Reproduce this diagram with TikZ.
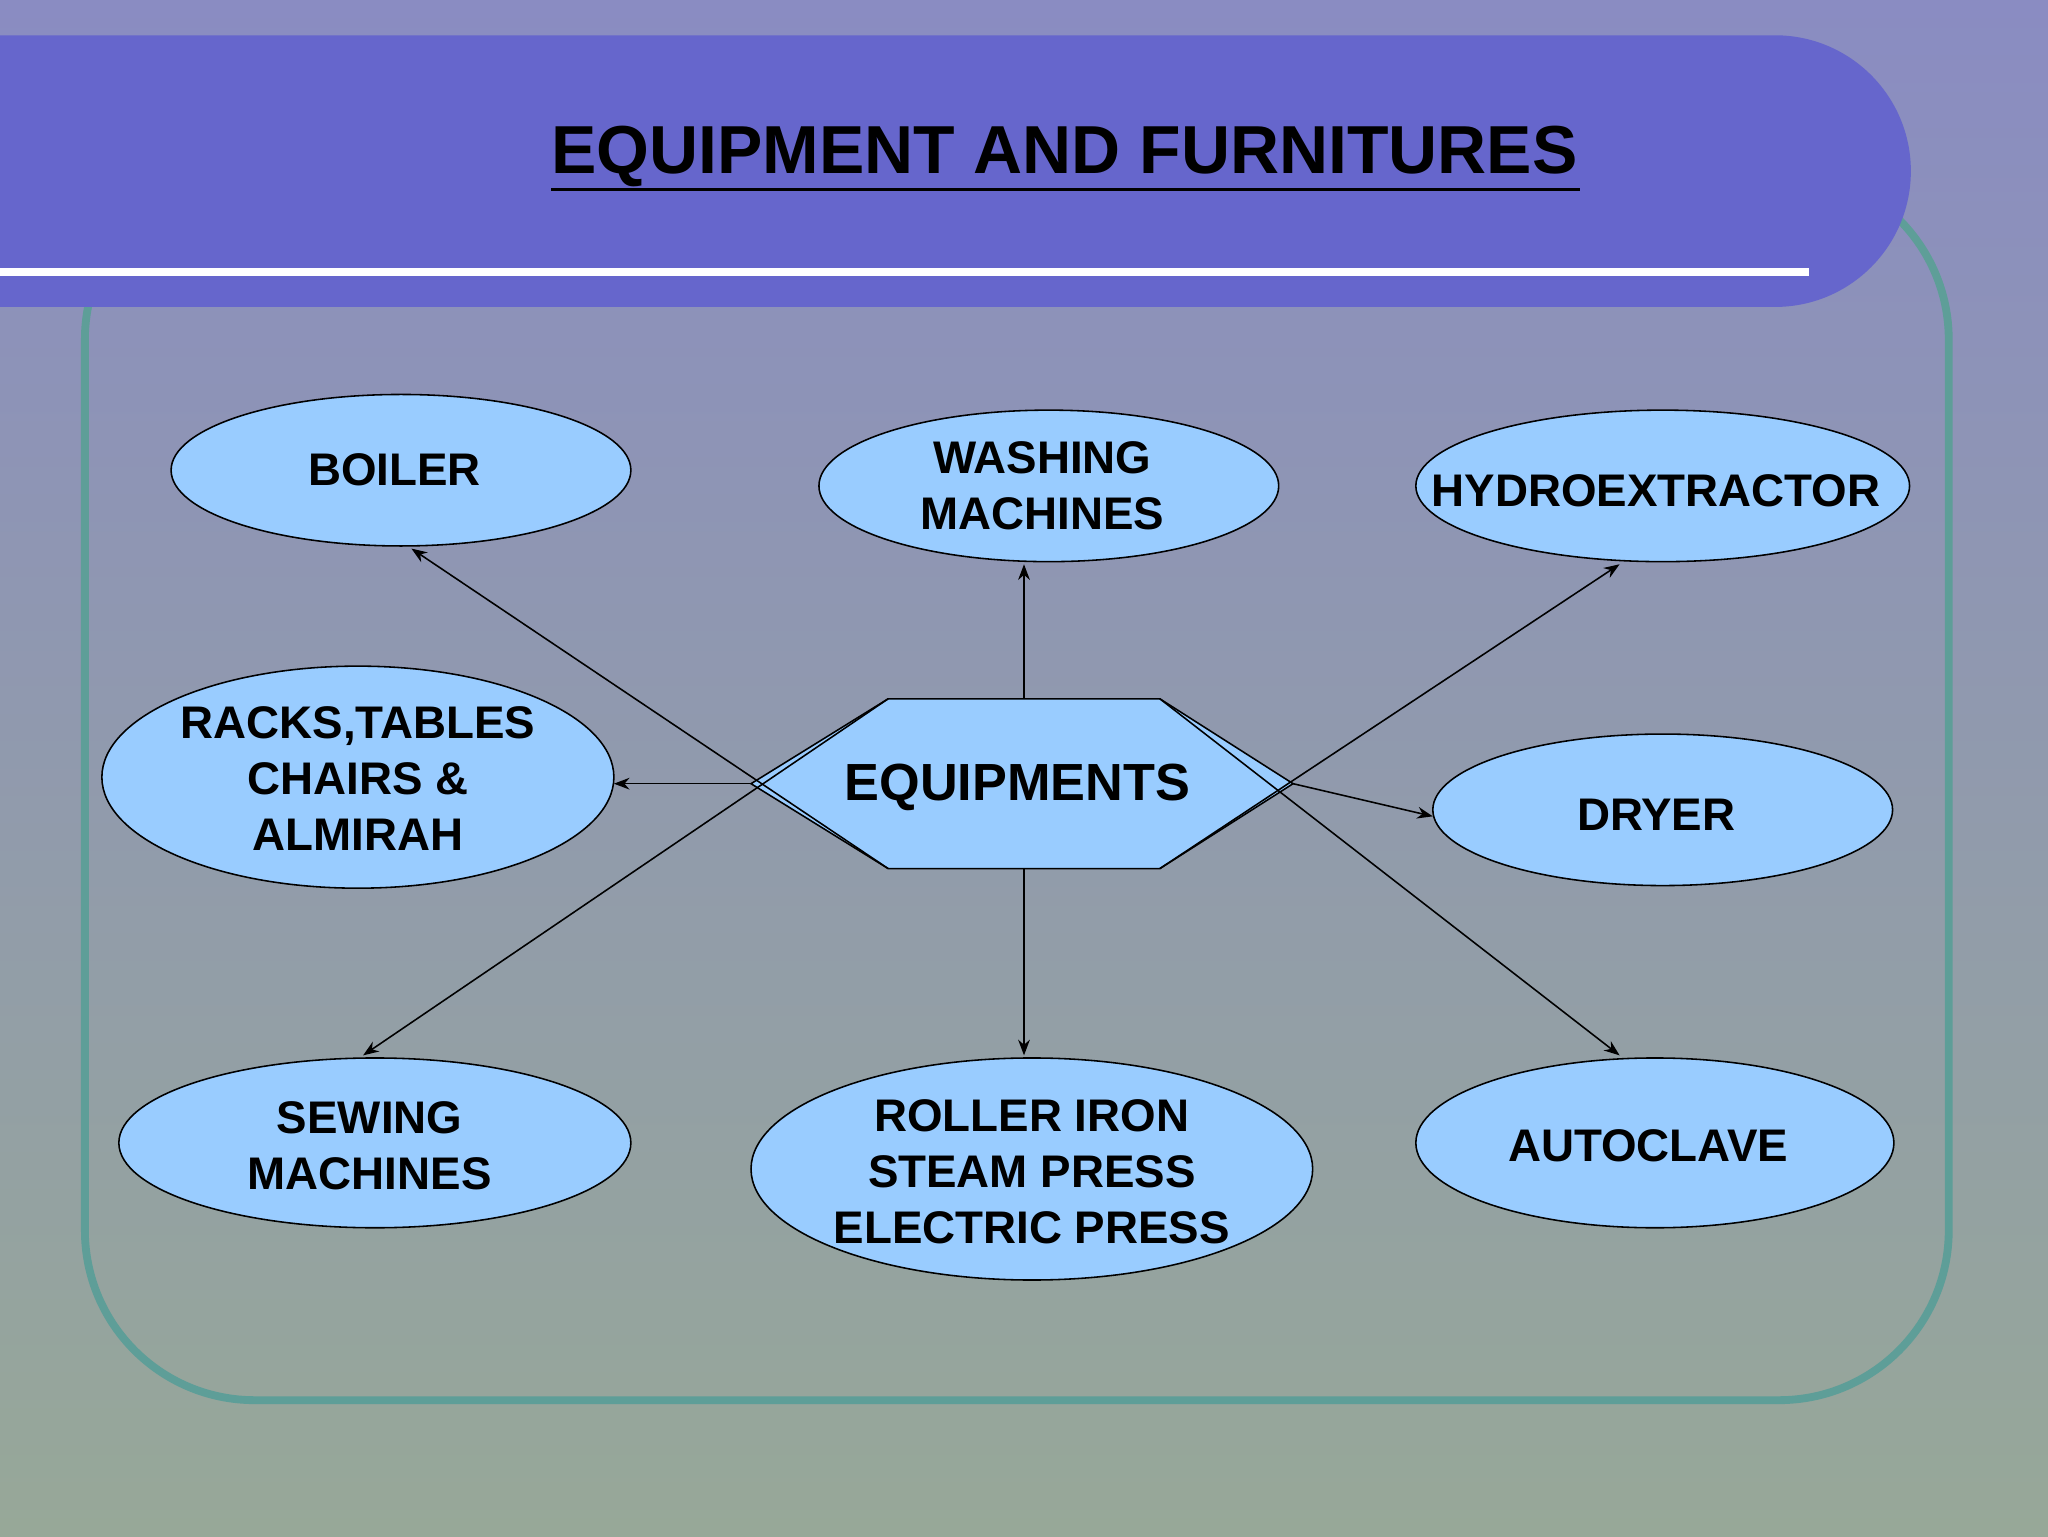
\documentclass[tikz,border=0pt]{standalone}
\usepackage{fontspec}
\setmainfont{Liberation Sans}
\usetikzlibrary{shapes.geometric,arrows.meta}
\definecolor{bgtop}{HTML}{8A8CC2}
\definecolor{bgbot}{HTML}{97A898}
\definecolor{banner}{HTML}{6666CC}
\definecolor{frame}{HTML}{5E9E98}
\definecolor{ell}{HTML}{99CCFF}
\begin{document}
\begin{tikzpicture}[x=1pt,y=-1pt,
  ov/.style={ellipse,draw=black,line width=1.2pt,fill=ell,inner sep=0pt},
  txt/.style={align=center,font=\fontsize{35}{43}\selectfont\bfseries},
  conn/.style={draw=black,line width=1.2pt,-{Stealth[length=12pt,width=9pt]}}]
\useasboundingbox (0,0) rectangle (1568,1176);
\shade[top color=bgtop,bottom color=bgbot] (0,0) rectangle (1568,1176);
\draw[frame,line width=6pt,rounded corners=130pt] (65,130) rectangle (1492,1072);
\fill[banner,rounded corners=104pt] (-300,27) rectangle (1463,235);
\draw[white,line width=6pt] (0,208) -- (1385,208);
\node[font=\fontsize{52}{60}\selectfont\bfseries] (title) at (815,120) {EQUIPMENT AND FURNITURES};
\draw[black,line width=2.5pt] (422,145) -- (1210,145);
% ellipses
\node[ov,minimum width=352pt,minimum height=116pt] (boiler) at (307,360) {};
\node[ov,minimum width=352pt,minimum height=116pt] (wash) at (803,372) {};
\node[ov,minimum width=378pt,minimum height=116pt] (hydro) at (1273,372) {};
\node[ov,minimum width=392pt,minimum height=170pt] (racks) at (274,595) {};
\node[ov,minimum width=352pt,minimum height=116pt] (dryer) at (1273,620) {};
\node[ov,minimum width=392pt,minimum height=130pt] (sewing) at (287,875) {};
\node[ov,minimum width=430pt,minimum height=170pt] (roller) at (790,895) {};
\node[ov,minimum width=366pt,minimum height=130pt] (auto) at (1267,875) {};
\node[txt] (tboiler) at (302,360) {BOILER};
\node[txt] (twash) at (798,372) {WASHING\\MACHINES};
\node[txt] (thydro) at (1268,376) {HYDROEXTRACTOR};
\node[txt] (tracks) at (274,596) {RACKS,TABLES\\CHAIRS \&\\ALMIRAH};
\node[txt] (tdryer) at (1268,624) {DRYER};
\node[txt] (tsew) at (283,877) {SEWING\\MACHINES};
\node[txt] (troll) at (790,897) {ROLLER IRON\\STEAM PRESS\\ELECTRIC PRESS};
\node[txt] (tauto) at (1262,877) {AUTOCLAVE};
% hexagon
\coordinate (hl) at (575,600); \coordinate (htl) at (680,535); \coordinate (htr) at (888,535);
\coordinate (hr) at (990,600); \coordinate (hbr) at (888,665); \coordinate (hbl) at (680,665);
\coordinate (ht) at (784,535); \coordinate (hb) at (784,665);
\draw[fill=ell,line width=1.2pt] (hl) -- (htl) -- (htr) -- (hr) -- (hbr) -- (hbl) -- cycle;
\node[font=\fontsize{40}{46}\selectfont\bfseries] (eq) at (779,603) {EQUIPMENTS};
% end points
\coordinate (eboiler) at (315,420); \coordinate (ewash) at (784,432);
\coordinate (ehydro) at (1240,432); \coordinate (eracks) at (470,600);
\coordinate (edryer) at (1097,625); \coordinate (esew) at (278,808);
\coordinate (eroll) at (784,808); \coordinate (eauto) at (1240,808);
\draw[conn] (hbl) -- (eboiler);
\draw[conn] (htl) -- (esew);
\draw[conn] (hbr) -- (ehydro);
\draw[conn] (htr) -- (eauto);
\draw[conn] (ht) -- (ewash);
\draw[conn] (hb) -- (eroll);
\draw[conn] (hl) -- (eracks);
\draw[conn] (hr) -- (edryer);
\end{tikzpicture}
\end{document}
